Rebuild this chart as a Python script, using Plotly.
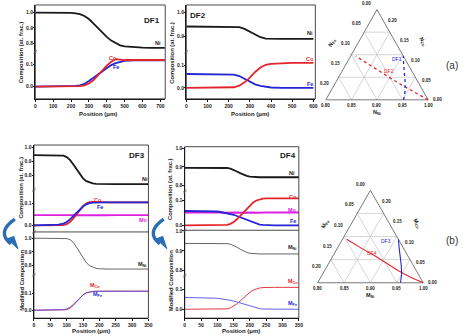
import math
import plotly.graph_objects as go

W, H = 474, 336

# ---------------- data ----------------
df1_pos = [0, 50, 100, 150, 200, 225, 250, 275, 300, 325, 350, 375, 400, 425, 450, 475, 500, 550, 600, 650, 700, 725]
df1_ni = [1.0, 1.0, 1.0, 1.0, 0.998, 0.995, 0.99, 0.978, 0.958, 0.93, 0.90, 0.87, 0.842, 0.818, 0.80, 0.787, 0.78, 0.774, 0.772, 0.77, 0.77, 0.77]
df1_co = [0, 0, 0, 0, 0, 0.001, 0.002, 0.005, 0.014, 0.028, 0.048, 0.072, 0.095, 0.112, 0.124, 0.122, 0.12, 0.12, 0.12, 0.12, 0.12, 0.12]
df1_fe = [0, 0, 0, 0, 0.001, 0.003, 0.005, 0.012, 0.025, 0.04, 0.056, 0.071, 0.085, 0.097, 0.106, 0.112, 0.116, 0.118, 0.118, 0.118, 0.118, 0.118]

df2_pos = [0, 50, 100, 150, 200, 225, 250, 275, 300, 325, 350, 375, 400, 450, 500, 550, 600]
df2_ni = [0.94, 0.94, 0.94, 0.94, 0.94, 0.939, 0.937, 0.93, 0.918, 0.905, 0.895, 0.889, 0.888, 0.888, 0.888, 0.888, 0.888]
df2_co = [0, 0, 0, 0, 0, 0.003, 0.01, 0.025, 0.046, 0.071, 0.091, 0.103, 0.107, 0.11, 0.111, 0.111, 0.111]
df2_fe = [0.062, 0.062, 0.062, 0.062, 0.061, 0.059, 0.053, 0.041, 0.027, 0.016, 0.009, 0.004, 0.002, 0.0, 0.0, 0.0, 0.0]

pos34 = [0, 25, 50, 75, 90, 100, 110, 120, 130, 140, 150, 160, 170, 180, 190, 200, 210, 220, 230, 240, 250, 275, 300, 325, 350]
df3_ni = [0.945, 0.945, 0.945, 0.945, 0.94, 0.93, 0.91, 0.878, 0.842, 0.806, 0.777, 0.757, 0.746, 0.74, 0.737, 0.736, 0.735, 0.735, 0.735, 0.735, 0.735, 0.735, 0.735, 0.735, 0.735]
df3_co = [0, 0, 0, 0, 0.001, 0.005, 0.015, 0.03, 0.048, 0.07, 0.088, 0.1, 0.106, 0.107, 0.106, 0.105, 0.105, 0.105, 0.105, 0.105, 0.105, 0.105, 0.105, 0.105, 0.105]
df3_fe = [0, 0, 0, 0.003, 0.008, 0.015, 0.027, 0.042, 0.057, 0.073, 0.086, 0.096, 0.102, 0.104, 0.105, 0.105, 0.105, 0.105, 0.105, 0.105, 0.105, 0.105, 0.105, 0.105, 0.105]
df3_mo = [0.047, 0.048, 0.046, 0.047, 0.047, 0.048, 0.047, 0.046, 0.047, 0.048, 0.047, 0.047, 0.046, 0.047, 0.048, 0.047, 0.047, 0.046, 0.047, 0.048, 0.047, 0.047, 0.046, 0.047, 0.047]
mdf3_ni = [1.0, 1.0, 1.0, 1.0, 1.0, 0.997, 0.99, 0.97, 0.935, 0.895, 0.855, 0.822, 0.8, 0.787, 0.78, 0.777, 0.775, 0.775, 0.775, 0.775, 0.775, 0.775, 0.775, 0.775, 0.775]
mdf3_co = [0, 0, 0, 0, 0, 0.003, 0.012, 0.028, 0.05, 0.073, 0.093, 0.106, 0.112, 0.114, 0.115, 0.115, 0.115, 0.115, 0.115, 0.115, 0.115, 0.115, 0.115, 0.115, 0.115]
mdf3_fe = [0, 0, 0, 0, 0.003, 0.008, 0.018, 0.035, 0.055, 0.075, 0.092, 0.104, 0.11, 0.113, 0.114, 0.115, 0.115, 0.115, 0.115, 0.115, 0.115, 0.115, 0.115, 0.115, 0.115]

df4_ni = [0.895, 0.895, 0.895, 0.895, 0.895, 0.895, 0.895, 0.895, 0.894, 0.89, 0.884, 0.875, 0.866, 0.858, 0.851, 0.847, 0.845, 0.844, 0.844, 0.844, 0.844, 0.844, 0.844, 0.844, 0.844]
df4_co = [0, 0, 0, 0, 0, 0, 0, 0, 0.002, 0.006, 0.013, 0.024, 0.038, 0.053, 0.067, 0.08, 0.091, 0.099, 0.104, 0.106, 0.107, 0.107, 0.107, 0.107, 0.107]
df4_fe = [0.057, 0.057, 0.057, 0.057, 0.056, 0.055, 0.053, 0.051, 0.048, 0.045, 0.042, 0.037, 0.032, 0.026, 0.02, 0.015, 0.01, 0.006, 0.003, 0.002, 0.001, 0, 0, 0, 0]
df4_mo = [0.051, 0.052, 0.05, 0.051, 0.051, 0.052, 0.051, 0.05, 0.051, 0.052, 0.051, 0.051, 0.05, 0.051, 0.052, 0.051, 0.051, 0.05, 0.051, 0.052, 0.051, 0.051, 0.05, 0.051, 0.051]
mdf4_ni = [0.937, 0.937, 0.937, 0.937, 0.937, 0.937, 0.937, 0.937, 0.936, 0.933, 0.927, 0.918, 0.908, 0.899, 0.892, 0.887, 0.885, 0.884, 0.884, 0.884, 0.884, 0.884, 0.884, 0.884, 0.884]
mdf4_co = [0, 0, 0, 0, 0, 0, 0, 0, 0.002, 0.007, 0.015, 0.027, 0.042, 0.058, 0.074, 0.087, 0.098, 0.105, 0.109, 0.111, 0.112, 0.112, 0.112, 0.112, 0.112]
mdf4_fe = [0.06, 0.06, 0.059, 0.058, 0.057, 0.056, 0.054, 0.052, 0.049, 0.046, 0.042, 0.037, 0.031, 0.025, 0.019, 0.014, 0.009, 0.005, 0.003, 0.001, 0.001, 0, 0, 0, 0]

# ternary diffusion paths (Ni, Co, Fe fractions)
ta_blue_ni = [0.952, 0.945, 0.935, 0.923, 0.912, 0.903]
ta_blue_co = [0.0, 0.02, 0.04, 0.06, 0.08, 0.097]
ta_blue_fe = [0.048, 0.035, 0.025, 0.017, 0.008, 0.0]
ta_red_ni = [1.0, 0.97, 0.94, 0.91, 0.88, 0.85, 0.81]
ta_red_co = [0.0, 0.014, 0.029, 0.044, 0.06, 0.076, 0.097]
ta_red_fe = [0.0, 0.016, 0.031, 0.046, 0.06, 0.074, 0.093]
tb_blue_ni = [0.957, 0.95, 0.94, 0.928, 0.917, 0.906]
tb_blue_co = [0.0, 0.018, 0.037, 0.056, 0.075, 0.094]
tb_blue_fe = [0.043, 0.032, 0.023, 0.016, 0.008, 0.0]
tb_red_ni = [1.0, 0.97, 0.94, 0.91, 0.88, 0.845, 0.808]
tb_red_co = [0.0, 0.012, 0.026, 0.042, 0.058, 0.075, 0.094]
tb_red_fe = [0.0, 0.018, 0.034, 0.048, 0.062, 0.08, 0.098]

ni_ticks = [0.80, 0.85, 0.90, 0.95, 1.00]
side_ticks = [0.00, 0.05, 0.10, 0.15, 0.20]

# ---------------- helpers ----------------
FONT = "Arial, Liberation Sans, sans-serif"
BLACK = "#1a1a1a"
RED = "#e3242b"
BLUE = "#2525d6"
MAG = "#e020e0"
TICKFONT = dict(family=FONT, size=5, color=BLACK, weight="bold")


def xd(a, b):
    return [a / W, b / W]


def yd(top, bot):
    return [1 - bot / H, 1 - top / H]


def yr(top, bot, vhi, phi, vlo, plo):
    s = (plo - phi) / (vhi - vlo)
    return [vlo - (bot - plo) / s, vhi + (phi - top) / s]


def xr(left, right, v0, p0, v1, p1):
    s = (p1 - p0) / (v1 - v0)
    return [v0 - (p0 - left) / s, v1 + (right - p1) / s]


def akey(n):
    return n[0] + "axis" + n[1:]


fig = go.Figure()
layout = {}
ann = []
shapes = []


def add_text(x, y, text, size=6, color=BLACK, bold=True, angle=0, xanchor="center", xref="paper", yref="paper", xshift=0, yshift=0):
    if xref == "paper":
        x = x / W
        y = 1 - y / H
    ann.append(dict(x=x, y=y, xref=xref, yref=yref, text=text, showarrow=False,
                    font=dict(family=FONT, size=size, color=color, weight="bold" if bold else "normal"),
                    textangle=angle, xanchor=xanchor, yanchor="middle", xshift=xshift, yshift=yshift))


def pline(x0, y0, x1, y1, color=BLACK, width=0.8):
    shapes.append(dict(type="line", xref="paper", yref="paper", x0=x0 / W, x1=x1 / W,
                       y0=1 - y0 / H, y1=1 - y1 / H, line=dict(color=color, width=width)))


def panel(xname, left, right, xrange_, xticks, secs, frame_top, frame_bot, seps=()):
    bottom_y = secs[-1][0]
    layout[akey(xname)] = dict(domain=xd(left, right), range=xrange_, anchor=bottom_y,
                               showline=True, linecolor=BLACK, linewidth=0.8, ticks="outside",
                               ticklen=2, tickwidth=0.7, tickcolor=BLACK, tickvals=xticks,
                               tickfont=TICKFONT, showgrid=False, zeroline=False)
    for yname, top, bot, rng, tv in secs:
        layout[akey(yname)] = dict(domain=yd(top, bot), range=rng, anchor=xname,
                                   showline=True, linecolor=BLACK, linewidth=0.8, ticks="outside",
                                   ticklen=1.5, tickwidth=0.7, tickcolor=BLACK, tickvals=tv,
                                   ticktext=["%.1f" % v for v in tv], tickfont=TICKFONT,
                                   ticklabelstandoff=-1, showgrid=False, zeroline=False)
    shapes.append(dict(type="rect", xref="paper", yref="paper", x0=left / W, x1=right / W,
                       y0=1 - frame_bot / H, y1=1 - frame_top / H, line=dict(color=BLACK, width=0.8)))
    for s in seps:
        pline(left, s, right, s)
    for _, top, bot, _, _ in secs[:-1]:
        # small axis-break mark on the left axis
        pline(left - 1.8, bot + 0.6, left + 1.8, bot - 1.4, color="#666", width=0.6)
        pline(left - 1.8, bot + 2.0, left + 1.8, bot + 0.0, color="#666", width=0.6)


def line(xs, ys, xa, ya, color, width=1.8, dash=None):
    fig.add_trace(go.Scatter(x=xs, y=ys, xaxis=xa, yaxis=ya, mode="lines",
                             line=dict(color=color, width=width, dash=dash), hoverinfo="skip",
                             showlegend=False))


# ---------------- DF1 ----------------
panel("x", 34.7, 166, xr(34.7, 166, 0, 34.7, 700, 161), [0, 100, 200, 300, 400, 500, 600, 700],
      [("y", 2, 49, yr(2, 49, 1.0, 9.7, 0.8, 40.7), [0.8, 0.9, 1.0]),
       ("y2", 49, 96.7, yr(49, 96.7, 0.1, 62, 0.0, 84.3), [0.0, 0.1])], 2, 96.7)
line(df1_pos, df1_ni, "x", "y", BLACK)
line(df1_pos, df1_fe, "x", "y2", BLUE)
line(df1_pos, df1_co, "x", "y2", RED)
add_text(153, 18, "DF1", size=8)
add_text(159, 40, "Ni", size=5.5)
add_text(113.5, 56, "Co", size=5.5, color=RED)
add_text(116, 65, "Fe", size=5.5, color=BLUE)
add_text(20, 50, "Composition (at. frac.)", size=5.8, angle=-90)
add_text(98, 112.5, "Position (μm)", size=6)

# ---------------- DF2 ----------------
panel("x2", 187.3, 317.7, xr(187.3, 317.7, 0, 187.3, 600, 315.7), [0, 100, 200, 300, 400, 500, 600],
      [("y3", 2, 49, yr(2, 49, 1.0, 9.3, 0.9, 33.3), [0.9, 1.0]),
       ("y4", 49, 96.7, yr(49, 96.7, 0.1, 63, 0.0, 85.7), [0.0, 0.1])], 2, 96.7)
line(df2_pos, df2_ni, "x2", "y3", BLACK)
line(df2_pos, df2_fe, "x2", "y4", BLUE)
line(df2_pos, df2_co, "x2", "y4", RED)
add_text(199, 13, "DF2", size=8)
add_text(312, 30, "Ni", size=5.5)
add_text(312, 57, "Co", size=5.5, color=RED)
add_text(312, 81.5, "Fe", size=5.5, color=BLUE)
add_text(172, 50, "Composition (at. frac.)", size=5.8, angle=-90)
add_text(252, 112.5, "Position (μm)", size=6)

# ---------------- DF3 ----------------
panel("x3", 33.3, 149, [0, 350], [0, 50, 100, 150, 200, 250, 300, 350],
      [("y5", 143.3, 188.3, yr(143.3, 188.3, 1.0, 145.7, 0.8, 173.7), [0.8, 0.9, 1.0]),
       ("y6", 188.3, 231, yr(188.3, 231, 0.1, 202.3, 0.0, 224.3), [0.0, 0.1]),
       ("y7", 231, 274, yr(231, 274, 1.0, 237.3, 0.8, 265), [0.8, 0.9, 1.0]),
       ("y8", 274, 318, yr(274, 318, 0.1, 293.3, 0.0, 310), [0.0, 0.1])], 143.3, 318, seps=(231,))
line(pos34, df3_ni, "x3", "y5", BLACK)
line(pos34, df3_mo, "x3", "y6", MAG)
line(pos34, df3_co, "x3", "y6", RED)
line(pos34, df3_fe, "x3", "y6", BLUE)
line(pos34, mdf3_ni, "x3", "y7", "#555555", width=0.9)
line(pos34, mdf3_co, "x3", "y8", RED, width=0.9)
line(pos34, mdf3_fe, "x3", "y8", "#5050e8", width=0.9)
add_text(137, 154, "DF3", size=8)
add_text(146, 177.5, "Ni", size=5.5)
add_text(98, 199, "Co", size=5.5, color=RED)
add_text(100, 206, "Fe", size=5.5, color=BLUE)
add_text(144, 218.5, "Mo", size=5.5, color=MAG)
add_text(143, 264, "M<sub>Ni</sub>", size=5.5)
add_text(95, 285, "M<sub>Co</sub>", size=5.5, color=RED)
add_text(98, 294, "M<sub>Fe</sub>", size=5.5, color=BLUE)
add_text(20.5, 186, "Composition (at. frac.)", size=5.8, angle=-90)
add_text(20.5, 280, "Modified Composition", size=5.8, angle=-90)
add_text(91, 330.5, "Position (μm)", size=6)

# ---------------- DF4 ----------------
panel("x4", 185.7, 301, [0, 350], [0, 50, 100, 150, 200, 250, 300, 350],
      [("y9", 145, 190, yr(145, 190, 1.0, 146.7, 0.8, 184), [0.8, 0.9, 1.0]),
       ("y10", 190, 229.3, yr(190, 229.3, 0.1, 199, 0.0, 224.3), [0.0, 0.1]),
       ("y11", 229.3, 275, yr(229.3, 275, 1.0, 230, 0.8, 270), [0.8, 0.9, 1.0]),
       ("y12", 275, 318, yr(275, 318, 0.1, 289.3, 0.0, 309), [0.0, 0.1])], 145, 318, seps=(229.3,))
line(pos34, df4_ni, "x4", "y9", BLACK)
line(pos34, df4_mo, "x4", "y10", MAG)
line(pos34, df4_fe, "x4", "y10", BLUE)
line(pos34, df4_co, "x4", "y10", RED)
line(pos34, mdf4_ni, "x4", "y11", "#555555", width=0.9)
line(pos34, mdf4_co, "x4", "y12", RED, width=0.9)
line(pos34, mdf4_fe, "x4", "y12", "#5050e8", width=0.9)
add_text(290, 153.5, "DF4", size=8)
add_text(294, 171.5, "Ni", size=5.5)
add_text(295.5, 196, "Co", size=5.5, color=RED)
add_text(295, 208.5, "Mo", size=5.5, color=MAG)
add_text(295, 220, "Fe", size=5.5, color=BLUE)
add_text(294, 247, "M<sub>Ni</sub>", size=5.5)
add_text(295, 281.5, "M<sub>Co</sub>", size=5.5, color=RED)
add_text(295, 303, "M<sub>Fe</sub>", size=5.5, color=BLUE)
add_text(171.5, 188, "Composition (at. frac.)", size=5.8, angle=-90)
add_text(171.5, 280, "Modified Composition", size=5.8, angle=-90)
add_text(243, 331, "Position (μm)", size=6)

# ---------------- ternary diagrams ----------------
R3 = math.sqrt(3) / 2


def proj(ni, co, fe, lo=0.8, span=0.2):
    u = (ni - lo) / span
    v = co / span
    w = fe / span
    s = u + v + w
    u, v = u / s, v / s
    return u + 0.5 * v, R3 * v


HIDDEN = dict(visible=False, showticklabels=False, showgrid=False, zeroline=False, showline=False,
              ticks="", tickvals=[])


def ternary(xname, yname, bl, br, apex_y, paths, labels, titles):
    pad = 0.08
    sx = br[0] - bl[0]
    sy = (bl[1] - apex_y) / R3
    layout[akey(xname)] = dict(domain=xd(bl[0] - pad * sx, br[0] + pad * sx), range=[-pad, 1 + pad],
                               anchor=yname, **HIDDEN)
    top_px = max(apex_y - 0.03 * sy, 0)
    top_val = R3 + (apex_y - top_px) / sy
    layout[akey(yname)] = dict(domain=yd(top_px, bl[1] + pad * sy), range=[-pad, top_val],
                               anchor=xname, **HIDDEN)
    gx, gy = [], []
    for t in [0.05, 0.10, 0.15]:
        for a, b in [((1.0 - t, t, 0.0), (0.8, t, 0.2 - t)),
                     ((1.0 - t, 0.0, t), (0.8, 0.2 - t, t)),
                     ((0.8 + t, 0.2 - t, 0.0), (0.8 + t, 0.0, 0.2 - t))]:
            p1 = proj(*a)
            p2 = proj(*b)
            gx += [p1[0], p2[0], None]
            gy += [p1[1], p2[1], None]
    fig.add_trace(go.Scatter(x=gx, y=gy, xaxis=xname, yaxis=yname, mode="lines",
                             line=dict(color="#c4c4c4", width=0.7), hoverinfo="skip", showlegend=False))
    corners = [(0.8, 0.0, 0.2), (1.0, 0.0, 0.0), (0.8, 0.2, 0.0), (0.8, 0.0, 0.2)]
    cx = [proj(*c)[0] for c in corners]
    cy = [proj(*c)[1] for c in corners]
    fig.add_trace(go.Scatter(x=cx, y=cy, xaxis=xname, yaxis=yname, mode="lines",
                             line=dict(color="#6a6a6a", width=0.9), hoverinfo="skip", showlegend=False))
    for ni, co, fe, color, dash, width in paths:
        pts = [proj(a, b, c) for a, b, c in zip(ni, co, fe)]
        fig.add_trace(go.Scatter(x=[p[0] for p in pts], y=[p[1] for p in pts], xaxis=xname, yaxis=yname,
                                 mode="lines", line=dict(color=color, width=width, dash=dash),
                                 hoverinfo="skip", showlegend=False))
    # tick labels
    for v in ni_ticks:
        x, y = proj(v, 0.0, 1.0 - v)
        add_text(x, y, "%.2f" % v, size=4.5, xref=xname, yref=yname, yshift=-6)
    for v in side_ticks:
        t = v / 0.2
        x, y = proj(0.8, 0.2 - v, v)
        add_text(x, y, "%.2f" % v, size=4.5, xref=xname, yref=yname,
                 xshift=-10 + 9 * t, yshift=6 + 10 * t)
    for v in side_ticks:
        t = v / 0.2
        x, y = proj(1.0 - v, v, 0.0)
        add_text(x, y, "%.2f" % v, size=4.5, xref=xname, yref=yname,
                 xshift=9 + 7 * t, yshift=-11 * t)
    for text, (ni, co, fe), color in labels:
        x, y = proj(ni, co, fe)
        add_text(x, y, text, size=5, color=color, bold=False, xref=xname, yref=yname)
    tb, tl, tr = titles
    x, y = proj(0.9, 0.0, 0.1)
    add_text(x, y, tb, size=5.5, xref=xname, yref=yname, yshift=-13)
    x, y = proj(0.8, 0.1, 0.1)
    add_text(x, y, tl, size=5.5, angle=-60, xref=xname, yref=yname, xshift=-19, yshift=12)
    x, y = proj(0.9, 0.1, 0.0)
    add_text(x, y, tr, size=5.5, angle=60, xref=xname, yref=yname, xshift=20, yshift=13)


ternary("x5", "y13", (328.3, 97.7), (431.7, 97.7), 6.7,
        [(ta_red_ni, ta_red_co, ta_red_fe, RED, "dot", 1.3),
         (ta_blue_ni, ta_blue_co, ta_blue_fe, BLUE, "dot", 1.3)],
        [("DF1", (0.895, 0.09, 0.015), BLUE), ("DF2", (0.89, 0.065, 0.045), RED)],
        ("N<sub>Ni</sub>", "N<sub>Fe</sub>", "N<sub>Co</sub>"))

ternary("x6", "y14", (320, 282.3), (426.7, 282.3), 189,
        [(tb_red_ni, tb_red_co, tb_red_fe, RED, None, 1.1),
         (tb_blue_ni, tb_blue_co, tb_blue_fe, BLUE, None, 1.1)],
        [("DF3", (0.885, 0.09, 0.025), BLUE), ("DF4", (0.87, 0.065, 0.065), RED)],
        ("M<sub>Ni</sub>", "M<sub>Fe</sub>", "M<sub>Co</sub>"))

add_text(456, 63, "(a)", size=10, color="#333", bold=False)
add_text(456, 240, "(b)", size=10, color="#333", bold=False)

# ---------------- curved arrows ----------------
ARROW = "#2a6db5"


def curved_arrow(x0):
    p = lambda x, y: "%.4f %.4f" % ((x0 + x) / W, 1 - y / H)
    shapes.append(dict(type="path", xref="paper", yref="paper",
                       path="M " + p(14, 218) + " Q " + p(-5, 231) + " " + p(10, 243),
                       line=dict(color=ARROW, width=3.4)))
    shapes.append(dict(type="path", xref="paper", yref="paper",
                       path="M " + p(6.5, 238) + " L " + p(17, 248) + " L " + p(13, 235.5) + " Z",
                       fillcolor=ARROW, line=dict(color=ARROW, width=1)))


curved_arrow(0)
curved_arrow(150.5)

layout.update(dict(width=W, height=H, margin=dict(l=0, r=0, t=0, b=0), paper_bgcolor="white",
                   plot_bgcolor="rgba(0,0,0,0)", showlegend=False, annotations=ann, shapes=shapes))
fig.update_layout(**layout)
fig.write_html("out.html")
